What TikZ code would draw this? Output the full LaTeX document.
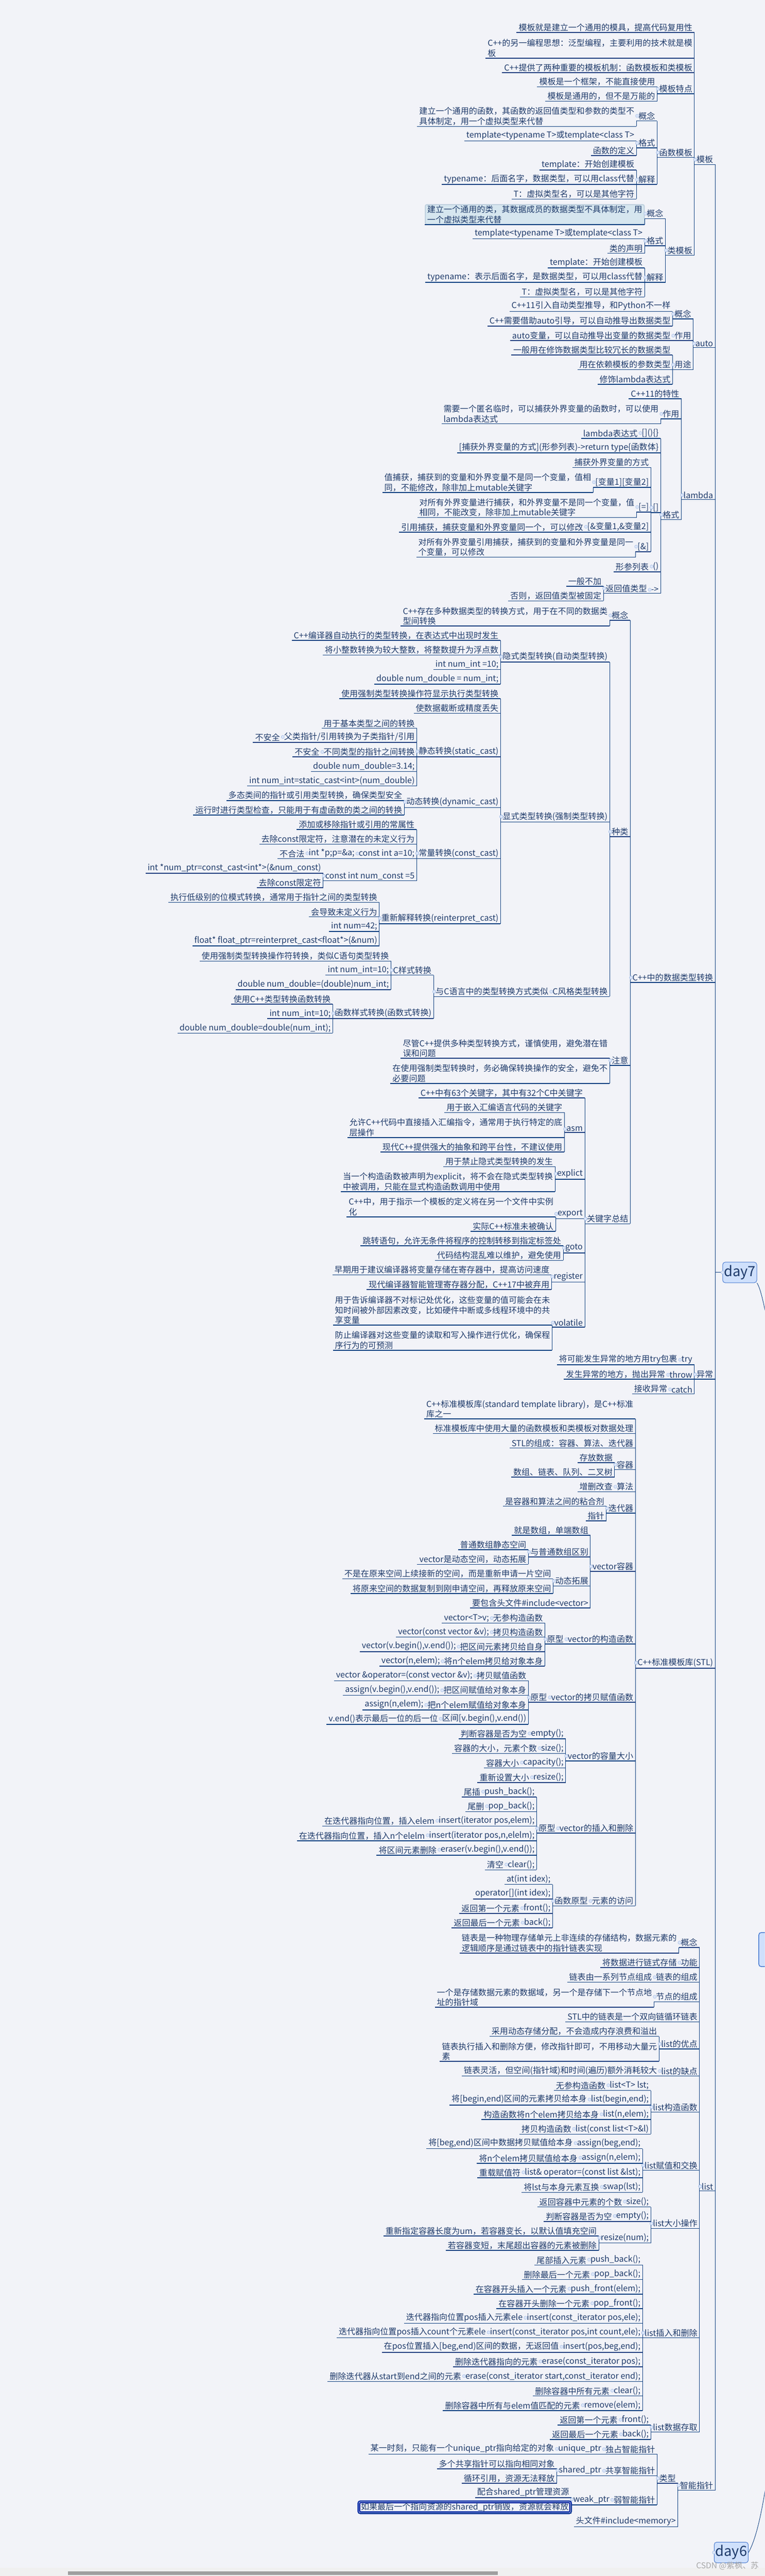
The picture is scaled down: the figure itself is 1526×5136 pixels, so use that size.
\documentclass[tikz,border=0pt]{standalone}
\usepackage{fontspec}
\setmainfont{Noto Sans CJK SC}
\usetikzlibrary{calc}
\definecolor{bg}{HTML}{F2F3F8}
\definecolor{txt}{HTML}{1E3A6A}
\definecolor{ln}{HTML}{0F3F80}
\definecolor{mkf}{HTML}{DCE6F8}
\definecolor{mkd}{HTML}{A4BDE6}
\definecolor{HTML3}{HTML}{D6E6EF}
\definecolor{HTML4}{HTML}{B8CBDB}
\definecolor{HTML5}{HTML}{CFE0FC}
\definecolor{HTML6}{HTML}{4A7BD0}
\tikzset{
 nd/.style={inner xsep=4pt, inner ysep=2pt, text=txt, font=\fontsize{16.5}{20}\selectfont, align=left},
 ul/.style={draw=ln, line width=1.6pt},
 br/.style={draw=ln, line width=0.9pt},
 mk/.style={draw=mkd, fill=mkf, line width=0.6pt},
 hl/.style={fill=HTML3, draw=HTML4, rounded corners=3pt, line width=1.5pt},
 sel/.style={draw=ln!70!blue, rounded corners=3pt, line width=2.5pt, double=white, double distance=0.6pt},
 daybox/.style={fill=HTML5, draw=HTML6, rounded corners=5pt, line width=1pt, text=txt, font=\fontsize{28}{30}\selectfont, minimum width=68pt, minimum height=41pt, inner sep=2pt}
}
\newcommand\N[5][]{%
 \coordinate (tmp) at (0,#4);
 \node[nd,#1,anchor=south east] (#2) at (#3.south west |- tmp) {#5};
 \draw[ul] (#2.south west) -- (#2.south east);
 \draw[br] (#2.south east) -- (#3.south west);
 \draw[mk] ($(#3.west)+(1.5,0)$) circle (3.2pt);}
\newcommand\RN[3]{%
 \node[nd,anchor=south east] (#1) at (1427,#2) {#3};
 \draw[ul] (#1.south west) -- (#1.south east);}
\begin{document}
\begin{tikzpicture}[x=1pt,y=-1pt]
\fill[bg] (0,0) rectangle (1526,5136);
\useasboundingbox (0,0) rectangle (1526,5136);
\clip (0,0) rectangle (1526,5136);
\draw[br] (1427,328) -- (1427,4965);
% ===== template
\RN{t}{328}{模板}
\N{t1}{t}{65}{模板就是建立一个通用的模具，提高代码复用性}
\N{t2}{t}{116}{C++的另一编程思想：泛型编程，主要利用的技术就是模\\板}
\N{t3}{t}{145}{C++提供了两种重要的模板机制：函数模板和类模板}
\N{t4}{t}{187}{模板特点}
\N{t4a}{t4}{173}{模板是一个框架，不能直接使用}
\N{t4b}{t4}{202}{模板是通用的，但不是万能的}
\N{t5}{t}{314}{函数模板}
\N{t5a}{t5}{241}{概念}
\N{t5a1}{t5a}{252}{建立一个通用的函数，其函数的返回值类型和参数的类型不\\具体制定，用一个虚拟类型来代替}
\N{t5b}{t5}{295}{格式}
\N{t5b1}{t5b}{281}{template<typename T>或template<class T>}
\N{t5b2}{t5b}{310}{函数的定义}
\N{t5c}{t5}{368}{解释}
\N{t5c1}{t5c}{339}{template：开始创建模板}
\N{t5c2}{t5c}{368}{typename：后面名字，数据类型，可以用class代替}
\N{t5c3}{t5c}{397}{T：虚拟类型名，可以是其他字符}
\N{t6}{t}{509}{类模板}
\N{t6a}{t6}{436}{概念}
\N[hl]{t6a1}{t6a}{448}{建立一个通用的类，其数据成员的数据类型不具体制定，用\\一个虚拟类型来代替}
\N{t6b}{t6}{490}{格式}
\N{t6b1}{t6b}{476}{template<typename T>或template<class T>}
\N{t6b2}{t6b}{505}{类的声明}
\N{t6c}{t6}{563}{解释}
\N{t6c1}{t6c}{534}{template：开始创建模板}
\N{t6c2}{t6c}{563}{typename：表示后面名字，是数据类型，可以用class代替}
\N{t6c3}{t6c}{592}{T：虚拟类型名，可以是其他字符}
% ===== auto
\RN{a}{693}{auto}
\N{a1}{a}{636}{概念}
\N{a1a}{a1}{621}{C++11引入自动类型推导，和Python不一样}
\N{a1b}{a1}{650}{C++需要借助auto引导，可以自动推导出数据类型}
\N{a2}{a}{679}{作用}
\N{a2a}{a2}{679}{auto变量，可以自动推导出变量的数据类型}
\N{a3}{a}{737}{用途}
\N{a3a}{a3}{708}{一般用在修饰数据类型比较冗长的数据类型}
\N{a3b}{a3}{737}{用在依赖模板的参数类型}
\N{a3c}{a3}{766}{修饰lambda表达式}
% ===== lambda
\RN{l}{996}{lambda}
\N{l1}{l}{795}{C++11的特性}
\N{l2}{l}{835}{作用}
\N{l2a}{l2}{845}{需要一个匿名临时，可以捕获外界变量的函数时，可以使用\\lambda表达式}
\N{l3}{l}{1036}{格式}
\N{l3a}{l3}{874}{[](){\{}{\}}}
\N{l3a1}{l3a}{874}{lambda表达式}
\N{l3b}{l3}{903}{[捕获外界变量的方式](形参列表)->return type{\{}函数体{\}}}
\N{l3c}{l3}{1022}{[]}
\N{l3c1}{l3c}{932}{捕获外界变量的方式}
\N{l3c2}{l3c}{972}{[变量1][变量2]}
\N{l3c2a}{l3c2}{982}{值捕获，捕获到的变量和外界变量不是同一个变量，值相\\同，不能修改，除非加上mutable关键字}
\N{l3c3}{l3c}{1021}{[=]}
\N{l3c3a}{l3c3}{1032}{对所有外界变量进行捕获，和外界变量不是同一个变量，值\\相同，不能改变，除非加上mutable关键字}
\N{l3c4}{l3c}{1061}{[\&变量1,\&变量2]}
\N{l3c4a}{l3c4}{1061}{引用捕获，捕获变量和外界变量同一个，可以修改}
\N{l3c5}{l3c}{1100}{[\&]}
\N{l3c5a}{l3c5}{1111}{对所有外界变量引用捕获，捕获到的变量和外界变量是同一\\个变量，可以修改}
\N{l3d}{l3}{1140}{()}
\N{l3d1}{l3d}{1140}{形参列表}
\N{l3e}{l3}{1183}{->}
\N{l3e1}{l3e}{1183}{返回值类型}
\N{l3e1a}{l3e1}{1169}{一般不加}
\N{l3e1b}{l3e1}{1198}{否则，返回值类型被固定}
% ===== conversion
\RN{c}{1959}{C++中的数据类型转换}
\N{c1}{c}{1237}{概念}
\N{c1a}{c1}{1248}{C++存在多种数据类型的转换方式，用于在不同的数据类\\型间转换}
\N{c2}{c}{1668}{种类}
\N{c2a}{c2}{1320}{隐式类型转换(自动类型转换)}
\N{c2a1}{c2a}{1277}{C++编译器自动执行的类型转换，在表达式中出现时发生}
\N{c2a2}{c2a}{1306}{将小整数转换为较大整数，将整数提升为浮点数}
\N{c2a3}{c2a}{1335}{int num\_int =10;}
\N{c2a4}{c2a}{1364}{double num\_double = num\_int;}
\N{c2b}{c2}{1639}{显式类型转换(强制类型转换)}
\N{c2b1}{c2b}{1393}{使用强制类型转换操作符显示执行类型转换}
\N{c2b2}{c2b}{1422}{使数据截断或精度丢失}
\N{c2b3}{c2b}{1509}{静态转换(static\_cast)}
\N{c2b3a}{c2b3}{1452}{用于基本类型之间的转换}
\N{c2b3b}{c2b3}{1480}{父类指针/引用转换为子类指针/引用}
\N{c2b3b1}{c2b3b}{1480}{不安全}
\N{c2b3c}{c2b3}{1509}{不同类型的指针之间转换}
\N{c2b3c1}{c2b3c}{1509}{不安全}
\N{c2b3d}{c2b3}{1538}{double num\_double=3.14;}
\N{c2b3e}{c2b3}{1567}{int num\_int=static\_cast<int>(num\_double)}
\N{c2b4}{c2b}{1610}{动态转换(dynamic\_cast)}
\N{c2b4a}{c2b4}{1596}{多态类间的指针或引用类型转换，确保类型安全}
\N{c2b4b}{c2b4}{1625}{运行时进行类型检查，只能用于有虚函数的类之间的转换}
\N{c2b5}{c2b}{1712}{常量转换(const\_cast)}
\N{c2b5a}{c2b5}{1654}{添加或移除指针或引用的常属性}
\N{c2b5b}{c2b5}{1683}{去除const限定符，注意潜在的未定义行为}
\N{c2b5c}{c2b5}{1712}{const int a=10;}
\N{c2b5c1}{c2b5c}{1712}{int *p;p=\&a;}
\N{c2b5c2}{c2b5c1}{1712}{不合法}
\N{c2b5d}{c2b5}{1756}{const int num\_const =5}
\N{c2b5d1}{c2b5d}{1741}{int *num\_ptr=const\_cast<int*>(\&num\_const)}
\N{c2b5d2}{c2b5d}{1770}{去除const限定符}
\N{c2b6}{c2b}{1842}{重新解释转换(reinterpret\_cast)}
\N{c2b6a}{c2b6}{1799}{执行低级别的位模式转换，通常用于指针之间的类型转换}
\N{c2b6b}{c2b6}{1828}{会导致未定义行为}
\N{c2b6c}{c2b6}{1857}{int num=42;}
\N{c2b6d}{c2b6}{1886}{float* float\_ptr=reinterpret\_cast<float*>(\&num)}
\N{c2c}{c2}{1987}{C风格类型转换}
\N{c2c1}{c2c}{1987}{与C语言中的类型转换方式类似}
\N{c2c1a}{c2c1}{1944}{C样式转换}
\N{c2c1a1}{c2c1a}{1916}{使用强制类型转换操作符转换，类似C语句类型转换}
\N{c2c1a2}{c2c1a}{1944}{int num\_int=10;}
\N{c2c1a3}{c2c1a}{1973}{double num\_double=(double)num\_int;}
\N{c2c1b}{c2c1}{2031}{函数样式转换(函数式转换)}
\N{c2c1b1}{c2c1b}{2002}{使用C++类型转换函数转换}
\N{c2c1b2}{c2c1b}{2031}{int num\_int=10;}
\N{c2c1b3}{c2c1b}{2060}{double num\_double=double(num\_int);}
\N{c3}{c}{2124}{注意}
\N{c3a}{c3}{2110}{尽管C++提供多种类型转换方式，谨慎使用，避免潜在错\\误和问题}
\N{c3b}{c3}{2160}{在使用强制类型转换时，务必确保转换操作的安全，避免不\\必要问题}
\N{c4}{c}{2440}{关键字总结}
\N{c4a}{c4}{2189}{C++中有63个关键字，其中有32个C中关键字}
\N{c4b}{c4}{2258}{asm}
\N{c4b1}{c4b}{2218}{用于嵌入汇编语言代码的关键字}
\N{c4b2}{c4b}{2268}{允许C++代码中直接插入汇编指令，通常用于执行特定的底\\层操作}
\N{c4b3}{c4b}{2297}{现代C++提供强大的抽象和跨平台性，不建议使用}
\N{c4c}{c4}{2351}{explict}
\N{c4c1}{c4c}{2326}{用于禁止隐式类型转换的发生}
\N{c4c2}{c4c}{2376}{当一个构造函数被声明为explicit，将不会在隐式类型转换\\中被调用，只能在显式构造函数调用中使用}
\N{c4d}{c4}{2430}{export}
\N{c4d1}{c4d}{2426}{C++中，用于指示一个模板的定义将在另一个文件中实例\\化}
\N{c4d2}{c4d}{2455}{实际C++标准未被确认}
\N{c4e}{c4}{2498}{goto}
\N{c4e1}{c4e}{2484}{跳转语句，允许无条件将程序的控制转移到指定标签处}
\N{c4e2}{c4e}{2513}{代码结构混乱难以维护，避免使用}
\N{c4f}{c4}{2556}{register}
\N{c4f1}{c4f}{2542}{早期用于建议编译器将变量存储在寄存器中，提高访问速度}
\N{c4f2}{c4f}{2571}{现代编译器智能管理寄存器分配，C++17中被弃用}
\N{c4g}{c4}{2646}{volatile}
\N{c4g1}{c4g}{2642}{用于告诉编译器不对标记处优化，这些变量的值可能会在未\\知时间被外部因素改变，比如硬件中断或多线程环境中的共\\享变量}
\N{c4g2}{c4g}{2692}{防止编译器对这些变量的读取和写入操作进行优化，确保程\\序行为的可预测}
% ===== exceptions
\RN{e}{2750}{异常}
\N{e1}{e}{2721}{try}
\N{e1a}{e1}{2721}{将可能发生异常的地方用try包裹}
\N{e2}{e}{2750}{throw}
\N{e2a}{e2}{2750}{发生异常的地方，抛出异常}
\N{e3}{e}{2779}{catch}
\N{e3a}{e3}{2779}{接收异常}
% ===== STL
\RN{s}{3326}{C++标准模板库(STL)}
\N{s1}{s}{2829}{C++标准模板库(standard template library)，是C++标准\\库之一}
\N{s2}{s}{2858}{标准模板库中使用大量的函数模板和类模板对数据处理}
\N{s3}{s}{2887}{STL的组成：容器、算法、迭代器}
\N{s4}{s}{2930}{容器}
\N{s4a}{s4}{2916}{存放数据}
\N{s4b}{s4}{2945}{数组、链表、队列、二叉树}
\N{s5}{s}{2974}{算法}
\N{s5a}{s5}{2974}{增删改查}
\N{s6}{s}{3017}{迭代器}
\N{s6a}{s6}{3003}{是容器和算法之间的粘合剂}
\N{s6b}{s6}{3032}{指针}
\N{s7}{s}{3133}{vector容器}
\N{s7a}{s7}{3061}{就是数组，单端数组}
\N{s7b}{s7}{3104}{与普通数组区别}
\N{s7b1}{s7b}{3090}{普通数组静态空间}
\N{s7b2}{s7b}{3119}{vector是动态空间，动态拓展}
\N{s7c}{s7}{3162}{动态拓展}
\N{s7c1}{s7c}{3148}{不是在原来空间上续接新的空间，而是重新申请一片空间}
\N{s7c2}{s7c}{3177}{将原来空间的数据复制到刚申请空间，再释放原来空间}
\N{s7d}{s7}{3206}{要包含头文件\#include<vector>}
\N{s8}{s}{3278}{vector的构造函数}
\N{s8a}{s8}{3278}{原型}
\N{s8a1}{s8a}{3236}{无参构造函数}
\N{s8a1x}{s8a1}{3236}{vector<T>v;}
\N{s8a2}{s8a}{3264}{拷贝构造函数}
\N{s8a2x}{s8a2}{3264}{vector(const vector \&v);}
\N{s8a3}{s8a}{3293}{把区间元素拷贝给自身}
\N{s8a3x}{s8a3}{3293}{vector(v.begin(),v.end());}
\N{s8a4}{s8a}{3322}{将n个elem拷贝给对象本身}
\N{s8a4x}{s8a4}{3322}{vector(n,elem);}
\N{s9}{s}{3394}{vector的拷贝赋值函数}
\N{s9a}{s9}{3394}{原型}
\N{s9a1}{s9a}{3351}{拷贝赋值函数}
\N{s9a1x}{s9a1}{3351}{vector \&operator=(const vector \&v);}
\N{s9a2}{s9a}{3380}{把区间赋值给对象本身}
\N{s9a2x}{s9a2}{3380}{assign(v.begin(),v.end());}
\N{s9a3}{s9a}{3409}{把n个elem赋值给对象本身}
\N{s9a3x}{s9a3}{3409}{assign(n,elem);}
\N{s9a4}{s9a}{3438}{区间[v.begin(),v.end())}
\N{s9a4x}{s9a4}{3438}{v.end()表示最后一位的后一位}
\N{s10}{s}{3511}{vector的容量大小}
\N{s10a}{s10}{3467}{empty();}
\N{s10ax}{s10a}{3467}{判断容器是否为空}
\N{s10b}{s10}{3496}{size();}
\N{s10bx}{s10b}{3496}{容器的大小，元素个数}
\N{s10c}{s10}{3525}{capacity();}
\N{s10cx}{s10c}{3525}{容器大小}
\N{s10d}{s10}{3554}{resize();}
\N{s10dx}{s10d}{3554}{重新设置大小}
\N{s11}{s}{3655}{vector的插入和删除}
\N{s11a}{s11}{3655}{原型}
\N{s11a1}{s11a}{3583}{push\_back();}
\N{s11a1x}{s11a1}{3583}{尾插}
\N{s11a2}{s11a}{3612}{pop\_back();}
\N{s11a2x}{s11a2}{3612}{尾删}
\N{s11a3}{s11a}{3641}{insert(iterator pos,elem);}
\N{s11a3x}{s11a3}{3641}{在迭代器指向位置，插入elem}
\N{s11a4}{s11a}{3670}{insert(iterator pos,n,elelm);}
\N{s11a4x}{s11a4}{3670}{在迭代器指向位置，插入n个elelm}
\N{s11a5}{s11a}{3699}{eraser(v.begin(),v.end());}
\N{s11a5x}{s11a5}{3699}{将区间元素删除}
\N{s11a6}{s11a}{3728}{clear();}
\N{s11a6x}{s11a6}{3728}{清空}
\N{s12}{s}{3800}{元素的访问}
\N{s12a}{s12}{3800}{函数原型}
\N{s12a1}{s12a}{3757}{at(int idex);}
\N{s12a2}{s12a}{3786}{operator[](int idex);}
\N{s12a3}{s12a}{3815}{front();}
\N{s12a3x}{s12a3}{3815}{返回第一个元素}
\N{s12a4}{s12a}{3844}{back();}
\N{s12a4x}{s12a4}{3844}{返回最后一个元素}
% ===== list
\RN{li}{4368}{list}
\N{li1}{li}{3883}{概念}
\N{li1a}{li1}{3894}{链表是一种物理存储单元上非连续的存储结构，数据元素的\\逻辑顺序是通过链表中的指针链表实现}
\N{li2}{li}{3923}{功能}
\N{li2a}{li2}{3923}{将数据进行链式存储}
\N{li3}{li}{3952}{链表的组成}
\N{li3a}{li3}{3952}{链表由一系列节点组成}
\N{li4}{li}{3991}{节点的组成}
\N{li4a}{li4}{4002}{一个是存储数据元素的数据域，另一个是存储下一个节点地\\址的指针域}
\N{li5}{li}{4031}{STL中的链表是一个双向链循环链表}
\N{li6}{li}{4085}{list的优点}
\N{li6a}{li6}{4060}{采用动态存储分配，不会造成内存浪费和溢出}
\N{li6b}{li6}{4110}{链表执行插入和删除方便，修改指针即可，不用移动大量元\\素}
\N{li7}{li}{4139}{list的缺点}
\N{li7a}{li7}{4139}{链表灵活，但空间(指针域)和时间(遍历)额外消耗较大}
\N{li8}{li}{4211}{list构造函数}
\N{li8a}{li8}{4168}{list<T> lst;}
\N{li8ax}{li8a}{4168}{无参构造函数}
\N{li8b}{li8}{4197}{list(begin,end);}
\N{li8bx}{li8b}{4197}{将[begin,end)区间的元素拷贝给本身}
\N{li8c}{li8}{4226}{list(n,elem);}
\N{li8cx}{li8c}{4226}{构造函数将n个elem拷贝给本身}
\N{li8d}{li8}{4255}{list(const list<T>\&l)}
\N{li8dx}{li8d}{4255}{拷贝构造函数}
\N{li9}{li}{4327}{list赋值和交换}
\N{li9a}{li9}{4284}{assign(beg,end);}
\N{li9ax}{li9a}{4284}{将[beg,end)区间中数据拷贝赋值给本身}
\N{li9b}{li9}{4313}{assign(n,elem);}
\N{li9bx}{li9b}{4313}{将n个elem拷贝赋值给本身}
\N{li9c}{li9}{4342}{list\& operator=(const list \&lst);}
\N{li9cx}{li9c}{4342}{重载赋值符}
\N{li9d}{li9}{4371}{swap(lst);}
\N{li9dx}{li9d}{4371}{将lst与本身元素互换}
\N{li10}{li}{4443}{list大小操作}
\N{li10a}{li10}{4400}{size();}
\N{li10ax}{li10a}{4400}{返回容器中元素的个数}
\N{li10b}{li10}{4429}{empty();}
\N{li10bx}{li10b}{4429}{判断容器是否为空}
\N{li10c}{li10}{4472}{resize(num);}
\N{li10c1}{li10c}{4458}{重新指定容器长度为um，若容器变长，以默认值填充空间}
\N{li10c2}{li10c}{4487}{若容器变短，末尾超出容器的元素被删除}
\N{li11}{li}{4661}{list插入和删除}
\N{li11a}{li11}{4516}{push\_back();}
\N{li11ax}{li11a}{4516}{尾部插入元素}
\N{li11b}{li11}{4545}{pop\_back();}
\N{li11bx}{li11b}{4545}{删除最后一个元素}
\N{li11c}{li11}{4574}{push\_front(elem);}
\N{li11cx}{li11c}{4574}{在容器开头插入一个元素}
\N{li11d}{li11}{4603}{pop\_front();}
\N{li11dx}{li11d}{4603}{在容器开头删除一个元素}
\N{li11e}{li11}{4632}{insert(const\_iterator pos,ele);}
\N{li11ex}{li11e}{4632}{迭代器指向位置pos插入元素ele}
\N{li11f}{li11}{4661}{insert(const\_iterator pos,int count,ele);}
\N{li11fx}{li11f}{4661}{迭代器指向位置pos插入count个元素ele}
\N{li11g}{li11}{4690}{insert(pos,beg,end);}
\N{li11gx}{li11g}{4690}{在pos位置插入[beg,end)区间的数据，无返回值}
\N{li11h}{li11}{4719}{erase(const\_iterator pos);}
\N{li11hx}{li11h}{4719}{删除迭代器指向的元素}
\N{li11i}{li11}{4748}{erase(const\_iterator start,const\_iterator end);}
\N{li11ix}{li11i}{4748}{删除迭代器从start到end之间的元素}
\N{li11j}{li11}{4777}{clear();}
\N{li11jx}{li11j}{4777}{删除容器中所有元素}
\N{li11k}{li11}{4806}{remove(elem);}
\N{li11kx}{li11k}{4806}{删除容器中所有与elem值匹配的元素}
\N{li12}{li}{4849}{list数据存取}
\N{li12a}{li12}{4835}{front();}
\N{li12ax}{li12a}{4835}{返回第一个元素}
\N{li12b}{li12}{4864}{back();}
\N{li12bx}{li12b}{4864}{返回最后一个元素}
% ===== smart pointers
\RN{p}{4965}{智能指针}
\N{p1}{p}{4951}{类型}
\N{p1a}{p1}{4893}{独占智能指针}
\N{p1a1}{p1a}{4893}{unique\_ptr}
\N{p1a1x}{p1a1}{4893}{某一时刻，只能有一个unique\_ptr指向给定的对象}
\N{p1b}{p1}{4936}{共享智能指针}
\N{p1b1}{p1b}{4936}{shared\_ptr}
\N{p1b1a}{p1b1}{4922}{多个共享指针可以指向相同对象}
\N{p1b1b}{p1b1}{4951}{循环引用，资源无法释放}
\N{p1c}{p1}{4994}{弱智能指针}
\N{p1c1}{p1c}{4994}{weak\_ptr}
\N{p1c1a}{p1c1}{4980}{配合shared\_ptr管理资源}
\N[sel]{p1c1b}{p1c1}{5011}{如果最后一个指向资源的shared\_ptr销毁，资源就会释放}
\N{p2}{p}{5038}{头文件\#include<memory>}
% ===== day nodes
\node[daybox] (d7) at (1476,2537) {day7};
\node[daybox] (d6) at (1459,5089) {day6};
\coordinate (j7) at (1427,2537);
\draw[br] (j7) -- (d7.west);
\draw[mk] (d7.west) circle (3.2pt);
\draw[mk] (d6.west) circle (3.2pt);
\draw[br] (d7.south east) .. controls (1518,2570) and (1524,2600) .. (1532,2640);
\draw[br] (d6.east) .. controls (1510,5060) and (1522,5000) .. (1532,4930);
\fill[HTML5] (1514,3853) rectangle (1540,3921);
\draw[HTML6, line width=1.5pt, rounded corners=5pt] (1540,3853) -- (1514,3853) -- (1514,3921) -- (1540,3921);
% ===== footer
\fill[gray!12] (0,5120) rectangle (1526,5136);
\fill[gray!75] (136,5127) rectangle (993,5134);
\node[text=gray!70, font=\fontsize{16}{16}\selectfont, anchor=south east, inner sep=0pt] (wm) at (1514,5124) {CSDN @紫枫、苏};
\end{tikzpicture}
\end{document}
